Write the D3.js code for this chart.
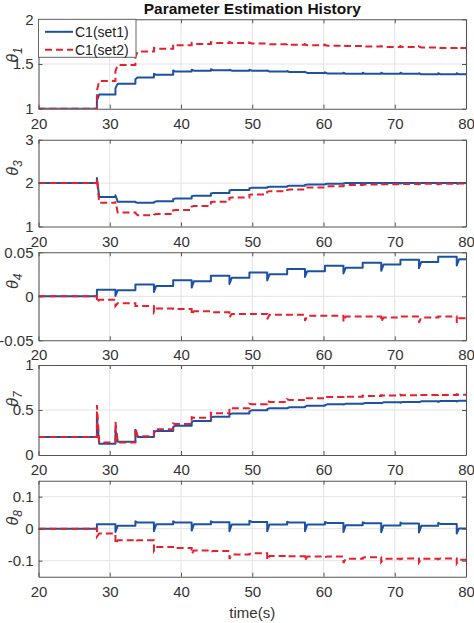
<!DOCTYPE html>
<html>
<head>
<meta charset="utf-8">
<script src="https://cdn.jsdelivr.net/npm/d3@7"></script>
<style>
  html, body { margin: 0; padding: 0; background: #fff; }
  svg { display: block; }
  text { font-family: Arial, "Liberation Sans", Helvetica, sans-serif; }
</style>
</head>
<body>
<svg id="chart" width="474" height="623"></svg>
<script>
// ---------------- DATA ----------------
const eventTimes = [28.2, 30.8, 33.6, 36.2, 38.9, 41.5, 44.2, 46.8, 49.6, 52.1, 54.9, 57.4, 60.2, 62.8, 65.5, 68.1, 70.8, 73.4, 76.1, 78.7];
const xTicks = [20, 30, 40, 50, 60, 70, 80];
const seriesNames = ["C1(set1)", "C1(set2)"];

// theta_1
const th1Init = [1.0, 1.0];
const th1Set1 = [1.16, 1.28, 1.35, 1.38, 1.415, 1.425, 1.43, 1.425, 1.425, 1.415, 1.41, 1.40, 1.395, 1.39, 1.39, 1.39, 1.39, 1.385, 1.385, 1.385];
const th1Set1Tr = [1.09, 1.23, 1.33, 1.39, 1.427, 1.437, 1.442, 1.437, 1.437, 1.427, 1.422, 1.412, 1.407, 1.402, 1.402, 1.402, 1.402, 1.397, 1.397, 1.397];
const th1Set2 = [1.31, 1.49, 1.64, 1.67, 1.71, 1.725, 1.735, 1.735, 1.73, 1.72, 1.715, 1.71, 1.705, 1.70, 1.695, 1.69, 1.69, 1.685, 1.68, 1.68];
const th1Set2Tr = [1.20, 1.42, 1.58, 1.68, 1.72, 1.735, 1.745, 1.745, 1.74, 1.73, 1.725, 1.72, 1.715, 1.71, 1.705, 1.70, 1.70, 1.695, 1.69, 1.69];
const th1Ticks = [1, 1.5, 2];

// theta_3
const th3Init = [2.0, 2.0];
const th3Set1 = [1.68, 1.57, 1.545, 1.58, 1.645, 1.71, 1.77, 1.84, 1.89, 1.915, 1.94, 1.965, 1.985, 2.0, 2.0, 2.0, 2.0, 2.0, 2.0, 2.0];
const th3Set1Tr = [2.12, 1.72, 1.56, 1.56, 1.63, 1.70, 1.76, 1.83, 1.88, 1.905, 1.93, 1.955, 1.975, 1.99, 1.99, 1.99, 1.99, 1.99, 1.99, 1.99];
const th3Set2 = [1.545, 1.32, 1.26, 1.29, 1.38, 1.47, 1.57, 1.67, 1.74, 1.815, 1.85, 1.90, 1.93, 1.955, 1.97, 1.975, 1.98, 1.985, 1.985, 1.99];
const th3Set2Tr = [2.10, 1.58, 1.31, 1.27, 1.37, 1.46, 1.56, 1.66, 1.73, 1.80, 1.84, 1.89, 1.92, 1.945, 1.96, 1.965, 1.97, 1.975, 1.975, 1.98];
const th3Ticks = [1, 2, 3];

// theta_4
const th4Init = [0, 0];
const th4Set1 = [0.0075, 0.0069, 0.0134, 0.0118, 0.0183, 0.0172, 0.0233, 0.021, 0.027, 0.025, 0.031, 0.0286, 0.0347, 0.0324, 0.038, 0.036, 0.0416, 0.039, 0.045, 0.042];
const th4Set1Tr = [0.0075, 0.0004, 0.0134, 0.005, 0.0183, 0.0099, 0.0233, 0.014, 0.027, 0.018, 0.031, 0.022, 0.0347, 0.026, 0.038, 0.029, 0.0416, 0.032, 0.045, 0.035];
const th4Set2 = [-0.004, -0.008, -0.011, -0.014, -0.0145, -0.017, -0.018, -0.020, -0.020, -0.021, -0.021, -0.022, -0.022, -0.023, -0.023, -0.024, -0.023, -0.024, -0.023, -0.025];
const th4Set2Tr = [-0.007, -0.011, -0.011, -0.018, -0.0145, -0.021, -0.018, -0.024, -0.020, -0.026, -0.021, -0.028, -0.022, -0.029, -0.023, -0.029, -0.023, -0.030, -0.023, -0.030];
const th4Ticks = [-0.05, 0, 0.05];

// theta_7
const th7Init = [0.2, 0.2];
const th7Set1 = [0.126, 0.148, 0.20, 0.267, 0.326, 0.378, 0.426, 0.46, 0.496, 0.52, 0.53, 0.548, 0.563, 0.57, 0.578, 0.585, 0.59, 0.596, 0.60, 0.604];
const th7Set1Tr = [0.41, 0.28, 0.28, 0.25, 0.31, 0.365, 0.415, 0.45, 0.485, 0.51, 0.52, 0.538, 0.553, 0.56, 0.568, 0.575, 0.58, 0.586, 0.59, 0.594];
const th7Set2 = [0.14, 0.14, 0.207, 0.285, 0.344, 0.415, 0.463, 0.52, 0.563, 0.59, 0.61, 0.63, 0.644, 0.648, 0.655, 0.66, 0.663, 0.667, 0.667, 0.67];
const th7Set2Tr = [0.555, 0.37, 0.30, 0.29, 0.35, 0.42, 0.47, 0.53, 0.57, 0.60, 0.62, 0.64, 0.65, 0.655, 0.66, 0.665, 0.67, 0.67, 0.672, 0.675];
const th7Ticks = [0, 0.5, 1];

// theta_8
const th8Init = [0, 0];
const th8Set1 = [0.0138, 0.0096, 0.019, 0.014, 0.019, 0.014, 0.020, 0.013, 0.021, 0.013, 0.019, 0.013, 0.018, 0.011, 0.017, 0.010, 0.016, 0.009, 0.015, 0.001];
const th8Set1Tr = [0.0138, -0.010, 0.023, -0.008, 0.023, -0.006, 0.023, -0.008, 0.025, -0.008, 0.022, -0.008, 0.021, -0.010, 0.020, -0.011, 0.019, -0.012, 0.018, -0.015];
const th8Set2 = [-0.015, -0.036, -0.036, -0.057, -0.06, -0.068, -0.07, -0.081, -0.077, -0.085, -0.086, -0.087, -0.087, -0.094, -0.089, -0.094, -0.093, -0.094, -0.093, -0.097];
const th8Set2Tr = [-0.025, -0.047, -0.040, -0.069, -0.062, -0.079, -0.072, -0.095, -0.079, -0.098, -0.088, -0.100, -0.089, -0.107, -0.091, -0.104, -0.095, -0.105, -0.095, -0.108];
const th8Ticks = [-0.1, 0, 0.1];

// ---------------- LAYOUT / STYLE ----------------
const left = 38.5, right = 466;
const blue = "#1c52a3", red = "#e8202e";
const axisColor = "#555", textColor = "#333", gridColor = "#e3e3e3";
const settleTime = 0.32; // seconds for a transient to settle

const panels = [
  { sub: "1", top: 19.3, bottom: 108.7, domain: [1, 2], ticks: th1Ticks, init: th1Init, s1: th1Set1, s1t: th1Set1Tr, s2: th1Set2, s2t: th1Set2Tr, legend: true, lblOff: -9 },
  { sub: "3", top: 139.7, bottom: 226.5, domain: [1, 3], ticks: th3Ticks, init: th3Init, s1: th3Set1, s1t: th3Set1Tr, s2: th3Set2, s2t: th3Set2Tr, lblOff: -15 },
  { sub: "4", top: 252.3, bottom: 340.3, domain: [-0.05, 0.05], ticks: th4Ticks, init: th4Init, s1: th4Set1, s1t: th4Set1Tr, s2: th4Set2, s2t: th4Set2Tr, lblOff: -15 },
  { sub: "7", top: 365, bottom: 455, domain: [0, 1], ticks: th7Ticks, init: th7Init, s1: th7Set1, s1t: th7Set1Tr, s2: th7Set2, s2t: th7Set2Tr, lblOff: -11 },
  { sub: "8", top: 480.7, bottom: 576.7, domain: [-0.15, 0.15], ticks: th8Ticks, init: th8Init, s1: th8Set1, s1t: th8Set1Tr, s2: th8Set2, s2t: th8Set2Tr, lblOff: -11 }
];

const svg = d3.select("#chart");
const x = d3.scaleLinear().domain([20, 80]).range([left, right]);

function buildPoints(init, steps, trans) {
  const pts = [[20, init]];
  let prev = init;
  eventTimes.forEach((t, i) => {
    pts.push([t, prev]);
    pts.push([t, trans[i]]);
    pts.push([t + settleTime, steps[i]]);
    prev = steps[i];
  });
  pts.push([80, prev]);
  return pts;
}

// Title
svg.append("text")
  .attr("x", (left + right) / 2).attr("y", 14)
  .attr("text-anchor", "middle")
  .attr("font-weight", "bold").attr("font-size", 15.5)
  .attr("fill", "#111")
  .text("Parameter Estimation History");

panels.forEach((p, idx) => {
  const y = d3.scaleLinear().domain(p.domain).range([p.bottom, p.top]);
  const g = svg.append("g");
  const clipId = "clip" + idx;
  svg.append("clipPath").attr("id", clipId)
    .append("rect").attr("x", left).attr("y", p.top)
    .attr("width", right - left).attr("height", p.bottom - p.top);

  g.append("rect").attr("x", left).attr("y", p.top)
    .attr("width", right - left).attr("height", p.bottom - p.top)
    .attr("fill", "#fff");

  // grid
  g.selectAll(".gx").data(xTicks.slice(1, -1)).join("line")
    .attr("x1", d => x(d)).attr("x2", d => x(d))
    .attr("y1", p.top).attr("y2", p.bottom)
    .attr("stroke", gridColor).attr("stroke-width", 1);
  g.selectAll(".gy").data(p.ticks.filter(v => v > p.domain[0] && v < p.domain[1])).join("line")
    .attr("x1", left).attr("x2", right)
    .attr("y1", d => y(d)).attr("y2", d => y(d))
    .attr("stroke", gridColor).attr("stroke-width", 1);

  // lines
  const line = d3.line().x(d => x(d[0])).y(d => y(d[1]));
  const lg = g.append("g").attr("clip-path", `url(#${clipId})`);
  lg.append("path").datum(buildPoints(p.init[0], p.s1, p.s1t))
    .attr("d", line).attr("fill", "none").attr("stroke", blue)
    .attr("stroke-width", 2).attr("stroke-linejoin", "round");
  lg.append("path").datum(buildPoints(p.init[1], p.s2, p.s2t))
    .attr("d", line).attr("fill", "none").attr("stroke", red)
    .attr("stroke-width", 2).attr("stroke-dasharray", "7,4");

  // axes
  const fmt = d => String(d);
  const axB = g.append("g").attr("transform", `translate(0,${p.bottom})`)
    .call(d3.axisBottom(x).tickValues(xTicks).tickFormat(fmt).tickSizeInner(-4).tickSizeOuter(0).tickPadding(9.5));
  const axT = g.append("g").attr("transform", `translate(0,${p.top})`)
    .call(d3.axisTop(x).tickValues(xTicks).tickFormat("").tickSizeInner(-4).tickSizeOuter(0));
  const axL = g.append("g").attr("transform", `translate(${left},0)`)
    .call(d3.axisLeft(y).tickValues(p.ticks).tickFormat(fmt).tickSizeInner(-4).tickSizeOuter(0).tickPadding(5));
  const axR = g.append("g").attr("transform", `translate(${right},0)`)
    .call(d3.axisRight(y).tickValues(p.ticks).tickFormat("").tickSizeInner(-4).tickSizeOuter(0));
  [axB, axT, axL, axR].forEach(a => {
    a.select(".domain").attr("stroke", axisColor).attr("stroke-width", 1.1);
    a.selectAll(".tick line").attr("stroke", axisColor);
    a.selectAll(".tick text").attr("fill", textColor).attr("font-size", 15)
      .attr("font-family", "Arial, 'Liberation Sans', Helvetica, sans-serif");
  });

  // y label
  const yl = svg.append("text")
    .attr("transform", `translate(18,${(p.top + p.bottom) / 2 + p.lblOff}) rotate(-90)`)
    .attr("text-anchor", "middle")
    .attr("fill", textColor)
    .attr("font-family", "'Liberation Serif', 'DejaVu Serif', serif")
    .attr("font-style", "italic").attr("font-size", 16);
  yl.append("tspan").text("θ");
  yl.append("tspan").attr("font-size", 12).attr("dy", 3.5).text(p.sub);

  // legend
  if (p.legend) {
    const lgX = left, lgY = p.top, lgW = 97.5, lgH = 38;
    const leg = svg.append("g");
    leg.append("rect").attr("x", lgX).attr("y", lgY).attr("width", lgW).attr("height", lgH)
      .attr("fill", "#fff").attr("stroke", "#666").attr("stroke-width", 1);
    const rows = [{ c: blue, dash: null, name: seriesNames[0], cy: lgY + 12.5 },
                  { c: red, dash: "7,4", name: seriesNames[1], cy: lgY + 30.5 }];
    rows.forEach(r => {
      leg.append("line").attr("x1", lgX + 6.5).attr("x2", lgX + 34.5)
        .attr("y1", r.cy).attr("y2", r.cy)
        .attr("stroke", r.c).attr("stroke-width", 2)
        .attr("stroke-dasharray", r.dash);
      leg.append("text").attr("x", lgX + 36.5).attr("y", r.cy + 5)
        .attr("font-size", 14).attr("fill", "#222").text(r.name);
    });
  }
});

// x label
svg.append("text")
  .attr("x", (left + right) / 2).attr("y", 618)
  .attr("text-anchor", "middle").attr("font-size", 15).attr("fill", textColor)
  .text("time(s)");
</script>
</body>
</html>
